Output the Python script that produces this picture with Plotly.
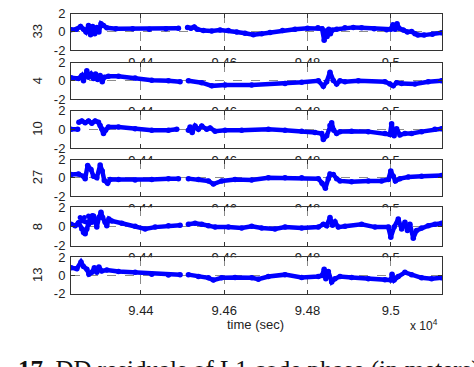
import plotly.graph_objects as go

# ---------------- data ----------------
sat_labels = ["33", "4", "10", "27", "8", "13"]
xtick_vals = [94400, 94600, 94800, 95000]
xtick_text = ["9.44", "9.46", "9.48", "9.5"]
ytick_vals = [-2, 0, 2]
ytick_text = ["-2", "0", "2"]

t33 = [94232, 94245, 94255, 94262, 94268, 94274, 94279, 94284, 94289, 94294, 94299, 94304, 94310, 94318,
       94340, 94380, 94420, 94460, 94490, None,
       94512, 94520, 94528, 94535, 94550, 94570, 94590, 94610, 94630, 94650, 94670, 94690, 94710, 94740,
       94770, 94800, 94825, 94835, 94840, 94843, 94847, 94851, 94855, 94860, 94870, 94890, 94910, 94930,
       94960, 94990, 95000, 95005, 95010, 95015, 95020, 95030, 95040, 95050, 95058, 95065, 95080, 95100, 95122]
v33 = [0.25, 0.3, 0.6, 0.3, 0.0, 0.7, -0.3, 0.6, -0.2, 0.5, 0.0, 0.9, 0.7, 0.45,
       0.35, 0.35, 0.3, 0.35, 0.4, None,
       0.5, 0.4, 0.55, 0.3, 0.15, 0.1, 0.2, 0.15, 0.0, -0.15, -0.3, -0.2, -0.05, 0.15,
       0.3, 0.4, 0.45, 0.35, -0.9, 0.1, -0.5, 0.3, -0.2, 0.2, 0.3, 0.45, 0.5, 0.45,
       0.35, 0.25, 0.3, 0.8, 0.3, 0.9, 0.4, 0.2, 0.0, 0.05, -0.2, -0.35, -0.35, -0.25, -0.1]

t4 = [94232, 94250, 94258, 94262, 94270, 94274, 94280, 94286, 94291, 94296, 94302, 94307, 94312, 94322,
      94346, 94386, 94426, 94466, 94494, None,
      94514, 94546, 94570, 94602, 94666, 94746, 94786, 94826, 94838, 94846, 94854, 94862, 94870, 94878,
      94890, 94922, 94986, 94998, 95006, 95014, 95026, 95058, 95090, 95122]
v4 = [0.35, 0.25, 0.6, 0.0, 1.1, 0.4, 0.75, 0.25, 0.75, 0.15, 0.6, -0.1, 0.4, 0.5,
      0.5, 0.3, 0.07, 0.0, -0.1, None,
      0.0, -0.2, -0.55, -0.45, -0.45, -0.3, -0.15, 0.0, -0.6, -0.1, 0.95, 0.05, -0.35, 0.0,
      -0.1, 0.0, -0.1, -0.35, -0.55, -0.2, -0.3, -0.35, -0.1, 0.0]

t10 = [94232, 94248, None, 94251, 94258, 94266, 94274, 94282, 94290, 94298, 94302, 94306, 94310, 94315, 94322,
       94346, 94386, 94426, 94466, 94486, None,
       94514, 94518, 94523, 94530, 94538, 94546, 94558, 94566, 94578, 94602, 94642, 94706, 94746, 94786,
       94818, 94834, 94838, 94846, 94854, 94858, 94863, 94870, 94878, 94906, 94946, 94986, 94998, 95002,
       95008, 95014, 95022, 95034, 95050, 95074, 95106, 95122]
v10 = [0.0, 0.0, None, 0.75, 0.9, 0.7, 0.9, 0.65, 0.9, 0.75, 0.4, 0.07, -0.45, -0.1, 0.25,
       0.25, 0.05, -0.1, -0.1, 0.0, None,
       -0.1, 0.25, -0.35, 0.35, 0.0, 0.35, 0.0, 0.15, -0.2, -0.1, -0.1, 0.0, -0.1, -0.2,
       -0.35, -0.45, -1.1, -0.7, 0.4, 0.7, -0.1, -0.45, -0.25, -0.2, -0.25, -0.45, -0.55, 0.6,
       -0.7, 0.05, -0.6, -0.45, -0.45, -0.25, 0.0, 0.05]

t27 = [94232, 94250, 94262, 94266, 94272, 94280, 94286, 94294, 94302, 94307, 94312, 94320, 94326,
       94346, 94386, 94426, 94466, 94490, None,
       94514, 94538, 94562, 94574, 94594, 94626, 94666, 94706, 94746, 94786, 94826, 94835, 94843, 94850,
       94854, 94862, 94870, 94878, 94906, 94946, 94978, 94994, 95000, 95006, 95011, 95022, 95042, 95074, 95122]
v27 = [0.35, 0.4, 0.15, -0.1, 1.35, 0.9, 0.15, 0.0, 1.4, 0.75, -0.3, -0.6, -0.2,
       -0.2, -0.25, -0.2, -0.1, -0.1, None,
       -0.1, -0.2, -0.35, -0.7, -0.35, -0.2, -0.25, 0.0, 0.0, 0.0, -0.1, -0.6, -1.15, -0.1,
       0.4, 0.35, -0.1, -0.35, -0.45, -0.35, -0.35, -0.2, 0.75, 0.15, -0.35, -0.1, 0.07, 0.15, 0.25]

t8 = [94232, 94242, 94250, 94258, 94262, 94266, 94270, 94274, 94278, 94282, 94286, 94290, 94294, 94299,
      94304, 94308, 94314, 94318, 94323, 94330, 94354, 94386, 94410, 94434, 94466, 94494, None,
      94514, 94530, 94546, 94562, 94578, 94610, 94642, 94666, 94690, 94722, 94746, 94786, 94826, 94838,
      94846, 94854, 94860, 94866, 94874, 94890, 94930, 94962, 94994, 95000, 95008, 95018, 95026, 95034,
      95040, 95046, 95054, 95062, 95074, 95090, 95106, 95122]
v8 = [0.25, 0.1, 0.4, -0.25, -0.6, -0.75, -0.25, 0.25, 0.95, 0.45, 1.1, 0.6, -0.05, 0.95,
      1.5, 0.95, 0.45, 0.1, 0.8, 0.6, 0.35, 0.03, -0.25, -0.05, 0.1, 0.15, None,
      0.25, 0.35, 0.25, 0.1, -0.05, -0.05, -0.15, 0.03, -0.15, -0.25, -0.05, -0.15, -0.05, 0.25,
      0.1, 0.95, 0.15, 0.5, -0.05, 0.03, 0.25, -0.05, -0.05, -1.1, -0.05, 0.8, -0.25, 0.45,
      -0.4, 0.25, -1.2, -0.4, -0.15, 0.1, 0.25, 0.35]
# loose scattered points at the start of satellite 8
t8_dots = [94254, 94264, 94274, 94283, 94258, 94266]
v8_dots = [0.95, 0.95, 1.1, 1.15, 0.6, 0.5]

t13 = [94232, 94246, 94256, 94262, 94270, 94275, 94282, 94288, 94294, 94299, 94306, 94318,
       94346, 94386, 94426, 94466, 94494, None,
       94514, 94538, 94562, 94574, 94594, 94626, 94666, 94682, 94706, 94746, 94786, 94826, 94835, 94840,
       94844, 94850, 94858, 94866, 94878, 94906, 94946, 94986, 95000, 95003, 95008, 95018, 95034, 95050,
       95074, 95098, 95122]
v13 = [0.85, 0.75, 1.5, 1.0, 0.7, 0.15, 0.35, 0.85, 0.35, 0.95, 0.5, 0.6,
       0.45, 0.35, 0.15, 0.07, 0.1, None,
       0.1, -0.1, -0.25, -0.5, -0.25, -0.2, -0.25, -0.4, -0.1, 0.1, -0.2, -0.1, 0.0, 0.7,
       -0.35, 0.45, -0.7, -0.35, -0.1, -0.2, -0.35, -0.45, -0.5, 0.15, -0.5, -0.1, 0.35, 0.1,
       -0.25, -0.35, -0.25]

series = [(t33, v33), (t4, v4), (t10, v10), (t27, v27), (t8, v8), (t13, v13)]

# ---------------- layout ----------------
W, H = 474, 367
X0, X1 = 71, 442
T_RANGE = [94232, 95123]
boxes = [(7, 45), (58, 96), (108, 147), (159, 197), (209, 249), (261, 299)]
BLUE = "#0000FF"
AX = "#333333"
FONT = "Liberation Sans"

fig = go.Figure()
xd = [X0 / W, X1 / W]
layout = dict(
    width=W, height=H, margin=dict(l=0, r=0, t=0, b=0),
    paper_bgcolor="white", plot_bgcolor="white", showlegend=False,
    hovermode=False,
    xaxis=dict(domain=xd, visible=False, anchor="y", range=[0, 1]),
    yaxis=dict(domain=[0, 1], visible=False, anchor="x", range=[0, 1]),
)
fig.add_trace(go.Scatter(x=[], y=[], xaxis="x", yaxis="y"))

annotations = []
last = len(boxes) - 1
for i, ((top, bot), (t, v), lab) in enumerate(zip(boxes, series, sat_labels)):
    n = i + 2
    layout[f"xaxis{n}"] = dict(
        domain=xd, anchor=f"y{n}", range=T_RANGE,
        tickvals=xtick_vals, ticktext=xtick_text,
        ticks="inside", ticklen=4, tickcolor=AX,
        showline=True, linecolor=AX, linewidth=1, mirror="ticks",
        showgrid=True, gridcolor="#8c8c8c", griddash="dash", gridwidth=1,
        zeroline=False, ticklabelstandoff=(5 if i == last else 0),
        tickfont=dict(family=FONT, size=13, color="#222"),
    )
    layout[f"yaxis{n}"] = dict(
        domain=[1 - bot / H, 1 - top / H], anchor=f"x{n}", range=[-2, 2],
        tickvals=ytick_vals, ticktext=ytick_text,
        ticks="inside", ticklen=4, tickcolor=AX,
        showline=True, linecolor=AX, linewidth=1, mirror="ticks",
        showgrid=True, gridcolor="#8c8c8c", griddash="dash", gridwidth=1,
        zeroline=False, ticklabelstandoff=2,
        tickfont=dict(family=FONT, size=13, color="#222"),
    )
    fig.add_trace(go.Scatter(
        x=t, y=v, mode="lines+markers", xaxis=f"x{n}", yaxis=f"y{n}",
        line=dict(color=BLUE, width=4.5), marker=dict(color=BLUE, size=5.5),
        connectgaps=False, cliponaxis=True,
    ))
    if lab == "8":
        fig.add_trace(go.Scatter(
            x=t8_dots, y=v8_dots, mode="markers", xaxis=f"x{n}", yaxis=f"y{n}",
            marker=dict(color=BLUE, size=5),
        ))
    annotations.append(dict(
        text=lab, x=37.5 / W, y=1 - (top + bot) / 2 / H, xref="paper", yref="paper",
        textangle=-90, showarrow=False, font=dict(family=FONT, size=13, color="#222"),
        xanchor="center", yanchor="middle",
    ))

annotations.append(dict(
    text="time (sec)", x=256 / W, y=1 - 331 / H, xref="paper", yref="paper",
    showarrow=False, font=dict(family=FONT, size=13, color="#222"),
    xanchor="center", yanchor="middle",
))
annotations.append(dict(
    text="x 10<sup>4</sup>", x=424 / W, y=1 - 332 / H, xref="paper", yref="paper",
    showarrow=False, font=dict(family=FONT, size=12, color="#222"),
    xanchor="center", yanchor="middle",
))
annotations.append(dict(
    text="<b>17.</b> DD residuals of L1 code phase (in meters)",
    x=16 / W, y=1 - 362 / H, xref="paper", yref="paper",
    showarrow=False, font=dict(family="Liberation Serif, Times New Roman, serif", size=25, color="#111"),
    xanchor="left", yanchor="top",
))
layout["annotations"] = annotations

fig.update_layout(**layout)
fig.write_html(
    "out.html",
    config={"displayModeBar": False, "staticPlot": True},
    post_script="document.body.style.margin='0px';document.body.style.overflow='hidden';",
)
